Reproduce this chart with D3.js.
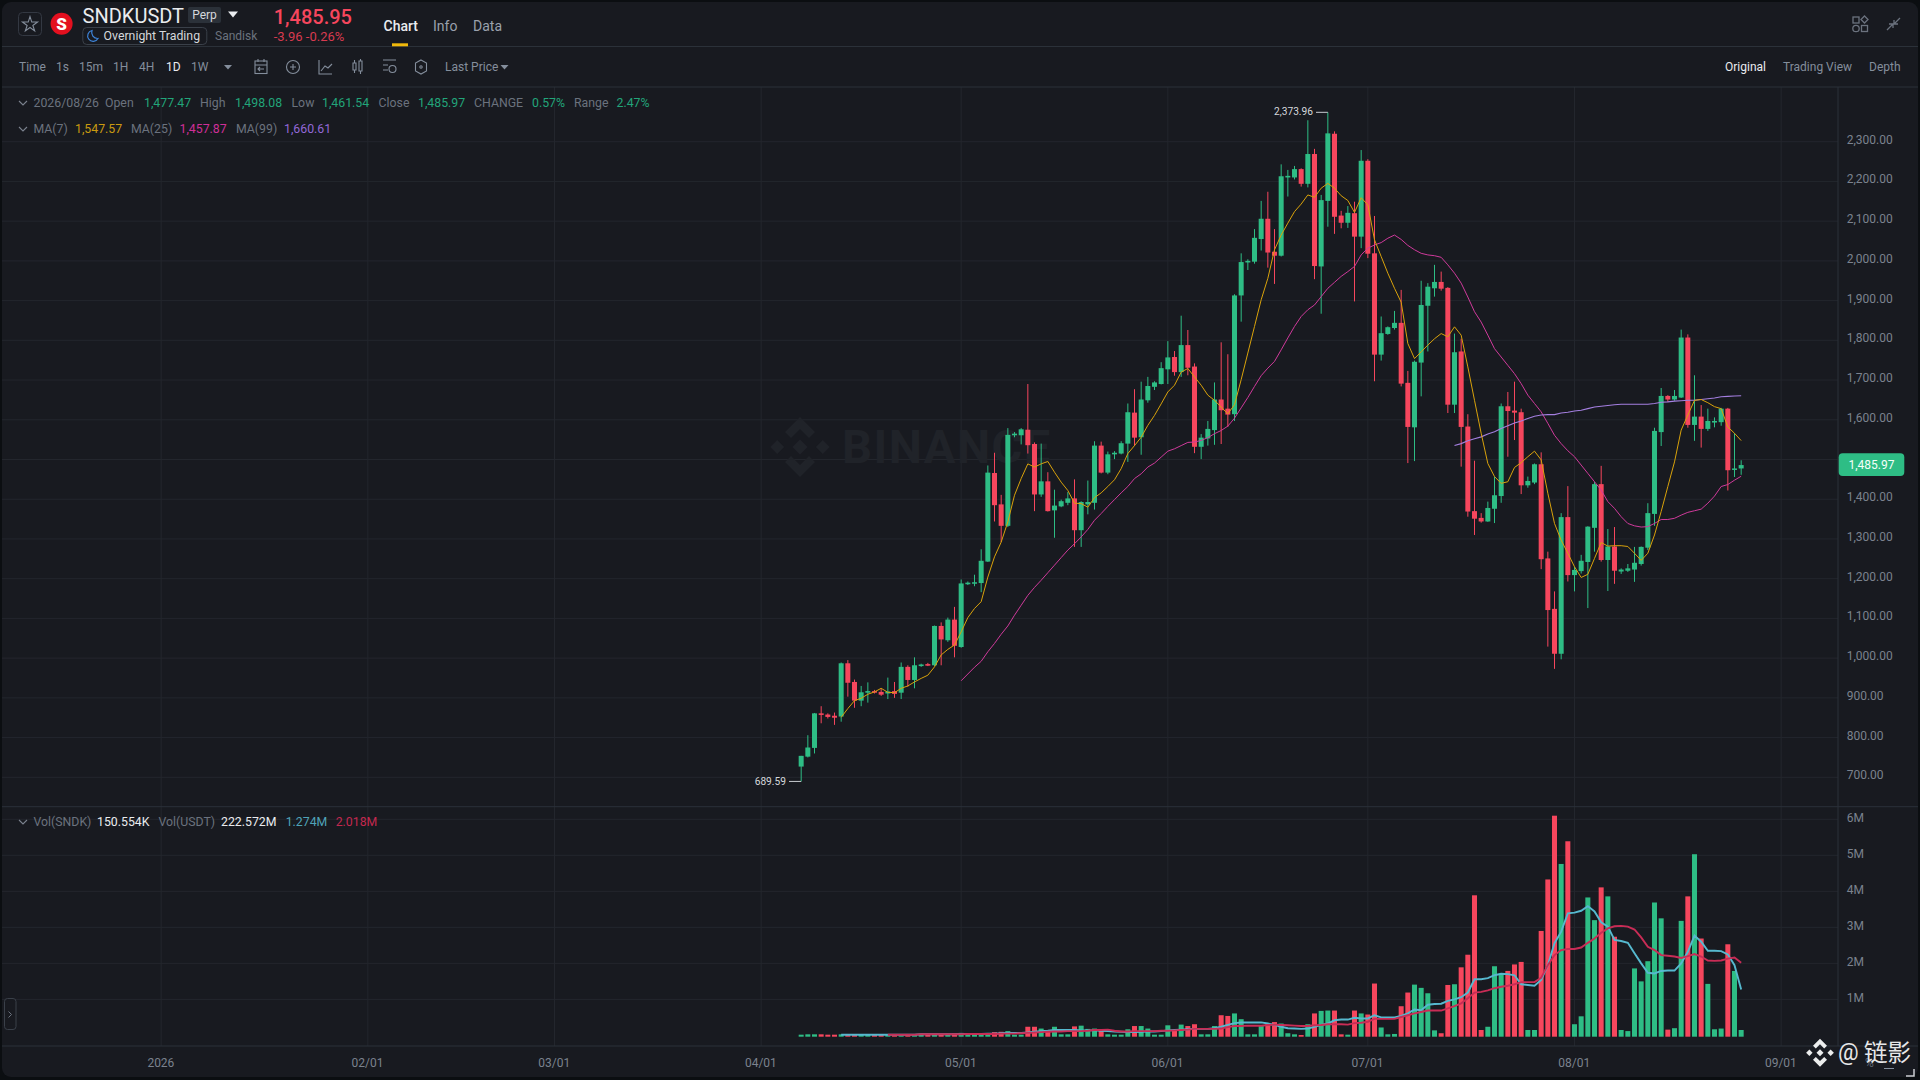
<!DOCTYPE html>
<html><head><meta charset="utf-8">
<style>
html,body{margin:0;padding:0;background:#0b0e11;width:1920px;height:1080px;overflow:hidden}
svg{display:block;font-family:Roboto,"Noto Sans",sans-serif}
</style>
<script src="https://cdn.jsdelivr.net/npm/d3@7/dist/d3.min.js"></script>
</head><body><svg id="c" width="1920" height="1080"></svg>
<script>
const firstDay = "2026-04-07";
const opens = [727,752,774,861,858,855,853,987,940,893,
913,917,915,911,917,913,978,945,980,985,
982,1081,1045,1097,1028,1186,1188,1189,1243,1466,
1387,1333,1561,1561,1575,1539,1412,1445,1372,1382,
1391,1402,1322,1387,1391,1535,1467,1513,1515,1540,
1618,1556,1649,1683,1690,1727,1758,1720,1788,1734,
1532,1553,1574,1651,1628,1614,1913,1996,1998,2055,
2106,2023,2013,2210,2210,2231,2194,2269,1986,2151,
2320,2114,2096,2120,2061,2252,2019,1764,1816,1831,
1844,1693,1581,1744,1887,1931,1947,1932,1638,1772,
1583,1370,1353,1344,1376,1408,1634,1623,1619,1435,
1442,1488,1251,1124,1011,1355,1209,1219,1242,1328,
1438,1247,1281,1218,1220,1223,1237,1278,1363,1569,
1660,1651,1656,1807,1587,1608,1577,1593,1594,1628,
1474,1477.47];
const closes = [754,775,861,857,852,850,987,938,893,914,
917,913,908,916,910,978,945,982,984,981,
1081,1047,1097,1031,1188,1190,1191,1245,1467,1385,
1333,1562,1565,1576,1536,1412,1445,1370,1384,1395,
1402,1322,1393,1393,1535,1467,1513,1517,1541,1619,
1555,1651,1685,1694,1730,1757,1720,1788,1731,1532,
1555,1577,1651,1624,1613,1913,1997,2000,2058,2106,
2021,2013,2213,2214,2231,2194,2269,1987,2153,2321,
2111,2096,2121,2061,2252,2018,1764,1818,1833,1844,
1691,1582,1746,1889,1935,1947,1930,1638,1770,1582,
1369,1351,1344,1378,1410,1634,1622,1618,1435,1446,
1488,1249,1121,1011,1355,1209,1222,1245,1331,1438,
1247,1281,1220,1223,1226,1240,1280,1365,1572,1660,
1651,1660,1807,1587,1608,1577,1597,1597,1628,1473,
1477.47,1485.97];
const highs = [754,806,862,879,861,863,989,995,946,930,
939,920,924,951,940,989,982,1002,986,988,
1082,1090,1102,1129,1198,1193,1210,1274,1485,1517,
1411,1579,1569,1579,1690,1543,1540,1468,1424,1399,
1418,1450,1395,1447,1546,1545,1520,1521,1546,1641,
1677,1696,1708,1697,1745,1798,1773,1862,1826,1742,
1564,1597,1694,1795,1765,1916,2019,2004,2080,2151,
2174,2080,2243,2229,2239,2233,2354,2282,2166,2373.96,
2326,2126,2138,2149,2279,2256,2113,1860,1835,1874,
1927,1723,1749,1950,1944,1990,1973,1934,1817,1804,
1614,1497,1365,1394,1457,1641,1670,1696,1628,1457,
1490,1518,1268,1168,1365,1433,1230,1260,1332,1444,
1484,1325,1330,1226,1237,1280,1281,1390,1580,1680,
1662,1675,1827,1815,1712,1637,1628,1606,1630,1630,
1566,1498.08];
const lows = [689.59,750,760,836,848,832,840,903,875,879,
888,911,905,897,900,897,928,924,978,980,
980,982,1041,1002,1026,1184,1181,1166,1242,1344,
1292,1330,1556,1538,1515,1370,1406,1369,1303,1380,
1385,1280,1280,1362,1374,1465,1463,1501,1513,1494,
1534,1512,1643,1675,1689,1690,1711,1708,1712,1516,
1501,1535,1537,1539,1582,1597,1847,1977,1993,2026,
1983,1942,2011,2162,2205,2187,2185,1954,1867,2086,
2068,2082,2083,1898,2032,2007,1697,1749,1814,1827,
1684,1491,1496,1659,1772,1910,1925,1617,1617,1482,
1356,1310,1341,1343,1340,1391,1507,1549,1413,1429,
1438,1224,1029,973,997,1193,1168,1213,1126,1268,
1243,1169,1187,1212,1217,1192,1233,1272,1333,1534,
1645,1648,1655,1580,1547,1530,1572,1581,1585,1422,
1456,1461.54];
const volumes = [.02,.03,.03,.03,.02,.02,.03,.02,.02,.02,
.02,.02,.02,.02,.02,.02,.02,.02,.03,.02,
.03,.03,.03,.05,.07,.03,.03,.03,.04,.09,
.10,.12,.02,.02,.24,.24,.19,.12,.24,.03,
.03,.25,.27,.18,.19,.15,.03,.02,.02,.17,
.26,.26,.19,.02,.02,.28,.15,.30,.26,.31,
.03,.03,.26,.56,.54,.61,.45,.03,.03,.26,
.31,.37,.33,.06,.03,.01,.31,.61,.68,.69,
.69,.03,.02,.69,.61,.58,1.44,.22,.03,.04,
.81,1.19,1.41,1.32,1.17,.14,.06,1.40,1.42,1.89,
2.24,3.89,.15,.24,1.92,1.70,1.79,1.97,2.04,.15,
.15,2.90,4.33,6.10,4.76,5.39,.31,.53,3.83,3.20,
4.11,3.86,2.74,.15,.12,1.86,1.50,2.06,3.69,3.25,
.16,.20,3.18,3.86,5.03,2.69,1.43,.17,.19,2.53,
1.79,.15];
const ma7Start = 6;
const ma7 = [851,873,893,899,909,915,924,914,913,924,930,940,949,957,
978,1008,1022,1033,1066,1102,1125,1142,1204,1255,1292,1343,1410,1452,1489,1481,
1489,1495,1468,1443,1422,1390,1389,1380,1404,1416,1432,1449,1477,1515,1535,1556,
1586,1611,1640,1670,1687,1720,1729,1708,1687,1662,1649,1632,1615,1638,1701,1768,
1835,1902,1956,2028,2065,2095,2124,2143,2166,2160,2183,2195,2183,2164,2152,2122,
2159,2141,2053,2011,1969,1931,1896,1792,1754,1771,1788,1804,1817,1809,1834,1813,
1733,1649,1566,1490,1457,1440,1444,1480,1492,1507,1521,1499,1415,1339,1297,1264,
1230,1203,1211,1251,1291,1282,1283,1283,1281,1264,1246,1264,1310,1369,1432,1494,
1574,1612,1649,1651,1643,1633,1628,1582,1566,1547.57];
const ma25Start = 24;
const ma25 = [943,960,977,992,1016,1037,1060,1081,1108,1133,1158,1178,1196,1215,1234,1253,
1272,1288,1305,1324,1347,1364,1382,1399,1416,1432,1452,1464,1481,1491,1506,1521,
1527,1535,1543,1544,1548,1555,1565,1573,
1584,1604,1630,1656,1684,1711,1730,1747,1776,1806,1835,1860,1877,1889,1910,1931,
1946,1961,1973,1986,2015,2032,2040,2046,2057,2065,2054,2039,2028,2019,2015,2013,
2009,1990,1969,1944,1909,1872,1846,1813,1779,1758,1737,1716,1691,1662,1641,1620,
1591,1561,1540,1522,1507,1486,1465,1444,1423,1394,1377,1356,1339,1333,1330,1331,
1339,1349,1349,1352,1360,1367,1371,1375,1390,1408,1432,1437,1448,1457.87];
const ma99Start = 98;
const ma99 = [1535,1540,1547,1552,1557,1564,1570,1578,1585,1592,1597,1603,1609,1612,1613,1613,
1617,1619,1622,1624,1628,1632,1634,1636,1638,1639,1639,1639,1639,1639,1641,1644,
1645,1647,1648,1649,1649,1651,1653,1655,1658,1659,1660,1660.61];
const volFastStart = 6;
const volFast = [.02,.02,.02,.02,.02,.02,.02,.02,.02,.02,.02,.02,.03,.03,.03,.03,.03,.03,
.04,.04,.04,.04,.05,.05,.06,.07,.07,.07,.08,.10,.12,.13,.15,.15,.15,.15,
.14,.14,.14,.13,.12,.11,.10,.09,.09,.10,.11,.11,.12,.14,.15,.16,.17,.18,.18,.18,
.20,.24,.29,.34,.36,.36,.36,.36,.33,.29,.24,.20,.19,
.18,.19,.24,.29,.33,.42,.44,.44,.49,.47,.47,.56,.50,.50,.50,.54,.61,.72,.70,.85,.87,.88,.96,
1.0,1.06,1.19,1.56,1.56,1.59,1.67,1.71,1.70,1.67,1.42,1.40,1.38,1.54,1.95,2.56,2.88,3.39,
3.41,3.46,3.59,3.44,3.14,3.02,2.65,2.62,2.57,2.28,2.0,1.74,1.72,1.79,1.80,1.80,2.0,2.32,
2.77,2.60,2.35,2.35,2.34,2.25,1.95,1.274];
const volSlowStart = 13;
const volSlow = [.02,.02,.02,.02,.02,.03,.03,.03,.03,.03,.03,.03,.04,.04,.04,.04,
.04,.05,.05,.05,.06,.07,.08,.09,.10,.11,.11,.12,.12,.12,.13,.15,.15,.16,.13,.11,
.11,.12,.12,.12,.12,.13,.13,.14,.15,.16,.18,.18,.18,.18,.19,.23,.26,.26,.27,.27,.27,
.29,.30,.29,.28,.27,
.26,.26,.28,.29,.31,.31,.31,.30,.34,.35,.38,.46,.46,.46,.46,.51,.56,.61,.65,.69,.69,.69,
.75,.81,.89,1.03,1.19,1.21,1.25,1.31,1.35,1.38,1.42,1.48,1.48,1.48,1.60,1.95,2.23,2.37,
2.40,2.40,2.44,2.57,2.69,2.85,2.97,3.03,3.04,3.02,2.94,2.72,2.46,2.37,2.23,2.21,2.19,2.15,
2.20,2.26,2.19,2.08,2.07,2.08,2.13,2.16,2.018];
const priceTicks = [700,800,900,1000,1100,1200,1300,1400,1500,1600,1700,1800,1900,2000,2100,2200,2300];
const priceLabelTicks = [700,800,900,1000,1100,1200,1300,1400,1600,1700,1800,1900,2000,2100,2200,2300];
const volTicks = [1,2,3,4,5,6];
const dateTicks = ["2026-01-01","2026-02-01","2026-03-01","2026-04-01","2026-05-01","2026-06-01","2026-07-01","2026-08-01","2026-09-01"];
const dateLabels = ["2026","02/01","03/01","04/01","05/01","06/01","07/01","08/01","09/01"];
const intervals = [["Time",19,"#848e9c"],["1s",56,"#848e9c"],["15m",79,"#848e9c"],["1H",113,"#848e9c"],["4H",139,"#848e9c"],["1D",166,"#eaecef"],["1W",191,"#848e9c"]];
const legendTop = [["2026/08/26",33.5,"g"],["Open",105,"g"],["1,477.47",144,"u"],["High",200,"g"],["1,498.08",235,"u"],["Low",291.5,"g"],["1,461.54",322,"u"],["Close",378.6,"g"],["1,485.97",418,"u"],["CHANGE",474,"g"],["0.57%",532,"u"],["Range",574,"g"],["2.47%",616.5,"u"]];
const legendMa = [["MA(7)",33.5,"g"],["1,547.57",75,"y"],["MA(25)",131,"g"],["1,457.87",179.5,"m"],["MA(99)",236,"g"],["1,660.61",284,"p"]];
const legendVol = [["Vol(SNDK)",33.5,"g"],["150.554K",97,"w"],["Vol(USDT)",158.5,"g"],["222.572M",221,"w"],["1.274M",285.7,"c"],["2.018M",335.7,"r"]];

const GREEN="#2ebd85", RED="#f6465d", GRID="#23262d", SEP="#2b3139", MUTED="#848e9c", AXIS="#7b828e";
const palette={g:"#6b727e",u:"#22a57a",y:"#c99a10",m:"#cf2f98",p:"#9368d8",w:"#eaecef",c:"#4fa3b8",r:"#c3284f"};
const parse=d3.utcParse("%Y-%m-%d");
const day0=parse(firstDay);
const dateOf=i=>d3.utcDay.offset(day0,i);
const x=d3.scaleUtc().domain([dateOf(0),dateOf(141)]).range([801.17,1741.17]);
const yP=d3.scaleLinear().domain([700,2300]).range([777.3,141.7]);
const yV=d3.scaleLinear().domain([0,6]).range([1035.4,819.3]);
const svg=d3.select("#c");
function T(g,s,px,py,o={}){return g.append("text").attr("x",px).attr("y",py).attr("dy","0.35em").attr("font-size",o.size||12).attr("font-weight",o.weight||400).attr("fill",o.fill||MUTED).attr("text-anchor",o.anchor||"start").text(s);}

// page + panel
svg.append("rect").attr("width",1920).attr("height",1080).attr("fill","#0b0e11");
svg.append("rect").attr("x",2).attr("y",2).attr("width",1916).attr("height",1075).attr("rx",9).attr("fill","#181a20");

// grid
const grid=svg.append("g").attr("stroke",GRID).attr("stroke-width",1);
grid.selectAll(".p").data(priceTicks).join("line").attr("x1",2).attr("x2",1838).attr("y1",d=>yP(d)).attr("y2",d=>yP(d));
grid.selectAll(".v").data(volTicks).join("line").attr("x1",2).attr("x2",1838).attr("y1",d=>yV(d)).attr("y2",d=>yV(d));
grid.selectAll(".d").data(dateTicks).join("line").attr("x1",d=>x(parse(d))).attr("x2",d=>x(parse(d))).attr("y1",87).attr("y2",1046);

// separators
const sep=svg.append("g").attr("stroke",SEP).attr("stroke-width",1);
[46.5,87,806.7,1046].forEach(y=>sep.append("line").attr("x1",2).attr("x2",1918).attr("y1",y).attr("y2",y));
sep.append("line").attr("x1",1838).attr("x2",1838).attr("y1",87).attr("y2",1046);

// binance mark
function mark(g,cx,cy,s,fill){
  const m=g.append("g").attr("transform",`translate(${cx},${cy}) scale(${s})`).attr("fill",fill);
  m.append("path").attr("d","M0-10L5-5L3-3L0-6L-3-3L-5-5Z");
  m.append("path").attr("d","M0 10L5 5L3 3L0 6L-3 3L-5 5Z");
  m.append("path").attr("d","M-7.6-2.3L-5.3 0L-7.6 2.3L-9.9 0Z");
  m.append("path").attr("d","M7.6-2.3L9.9 0L7.6 2.3L5.3 0Z");
  m.append("path").attr("d","M0-2.5L2.5 0L0 2.5L-2.5 0Z");
}
const wm=svg.append("g");
mark(wm,800,447,3,"#202329");
wm.append("text").attr("x",842).attr("y",463).attr("font-size",47).attr("font-weight",700).attr("letter-spacing",1.5).attr("fill","#202329").text("BINANCE");

// candles
const idx=d3.range(opens.length);
const cw=5;
const cg=svg.append("g");
const col=i=>closes[i]>=opens[i]?GREEN:RED;
cg.selectAll(".w").data(idx).join("rect").attr("x",i=>x(dateOf(i))-0.5).attr("width",1)
  .attr("y",i=>yP(highs[i])).attr("height",i=>Math.max(0.5,yP(lows[i])-yP(highs[i]))).attr("fill",col);
cg.selectAll(".b").data(idx).join("rect").attr("x",i=>x(dateOf(i))-cw/2).attr("width",cw)
  .attr("y",i=>yP(Math.max(opens[i],closes[i]))).attr("height",i=>Math.max(1.5,Math.abs(yP(opens[i])-yP(closes[i])))).attr("fill",col);

// MA lines
const lineOf=(arr,start,y,color,w)=>{
  const ln=d3.line().x((d,k)=>x(dateOf(k+start))).y(d=>y(d));
  svg.append("path").attr("d",ln(arr)).attr("fill","none").attr("stroke",color).attr("stroke-width",w);
};

// volume bars
const vg=svg.append("g");
const vBase=1036.7;
vg.selectAll("rect").data(idx).join("rect").attr("x",i=>x(dateOf(i))-cw/2).attr("width",cw)
  .attr("y",i=>yV(volumes[i])).attr("height",i=>Math.max(1,vBase-yV(volumes[i]))).attr("fill",col);

lineOf(ma25,ma25Start,yP,"#cf3a9b",1);
lineOf(ma99,ma99Start,yP,"#a47fe0",1.1);
lineOf(ma7,ma7Start,yP,"#d9a20b",1);
lineOf(volFast,volFastStart,yV,"#56b9cf",1.9);
lineOf(volSlow,volSlowStart,yV,"#c92c56",1.9);

// extreme labels
const hi=79, lo=0;
const ex=svg.append("g");
T(ex,"2,373.96",1313,yP(highs[hi])-1,{size:10.2,fill:"#d5d8dc",anchor:"end"});
ex.append("line").attr("x1",1316).attr("x2",x(dateOf(hi))).attr("y1",yP(highs[hi])).attr("y2",yP(highs[hi])).attr("stroke","#c8ccd1");
T(ex,"689.59",786,yP(lows[lo]),{size:10.2,fill:"#d5d8dc",anchor:"end"});
ex.append("line").attr("x1",789).attr("x2",x(dateOf(lo))).attr("y1",yP(lows[lo])).attr("y2",yP(lows[lo])).attr("stroke","#c8ccd1");

// axes
const axP=svg.append("g").attr("transform","translate(1846.7,0)")
  .call(d3.axisRight(yP).tickValues(priceLabelTicks).tickSize(0).tickPadding(0).tickFormat(d3.format(",.2f")));
const axV=svg.append("g").attr("transform","translate(1846.7,0)")
  .call(d3.axisRight(yV).tickValues(volTicks).tickSize(0).tickPadding(0).tickFormat(d=>d+"M"));
const axD=svg.append("g").attr("transform","translate(-0.8,1058)")
  .call(d3.axisBottom(x).tickValues(dateTicks.map(parse)).tickSize(0).tickPadding(0).tickFormat((d,i)=>dateLabels[i]));
[axP,axV,axD].forEach(a=>{a.select(".domain").remove();a.selectAll("text").attr("fill",AXIS).attr("font-size",12).attr("font-family","Roboto");});
axP.selectAll("text").attr("transform","translate(0,-2.3)");
axV.selectAll("text").attr("transform","translate(0,-2)");

// last price tag
svg.append("rect").attr("x",1838.7).attr("y",453.3).attr("width",65.6).attr("height",22.7).attr("rx",4).attr("fill",GREEN);
T(svg,"1,485.97",1871.5,464.8,{fill:"#f4fff9",anchor:"middle"});

// header
const h=svg.append("g");
h.append("rect").attr("x",18.5).attr("y",12.5).attr("width",23).attr("height",23).attr("rx",4).attr("fill","none").attr("stroke","#333842");
h.append("path").attr("d",d3.symbol(d3.symbolStar,70)()).attr("transform","translate(30,24.5)").attr("fill","none").attr("stroke","#848e9c").attr("stroke-width",1.1);
h.append("circle").attr("cx",61.6).attr("cy",23.7).attr("r",11).attr("fill","#e3101f");
T(h,"S",61.6,24,{size:17,weight:900,fill:"#fff",anchor:"middle"});
T(h,"SNDKUSDT",82.6,15.5,{size:20,weight:400,fill:"#eaecef"});
h.append("rect").attr("x",188).attr("y",7).attr("width",33).attr("height",16).attr("rx",2).attr("fill","#2b3139");
T(h,"Perp",204.5,15,{fill:"#d5d8dc",anchor:"middle"});
h.append("path").attr("d","M228 11.5h10l-5 6z").attr("fill","#eaecef");
h.append("rect").attr("x",82.8).attr("y",27.5).attr("width",124).attr("height",17).attr("rx",4).attr("fill","none").attr("stroke","#3a4049");
h.append("path").attr("d","M92 30.5a5.5 5.5 0 1 0 6 8a6 6 0 0 1-6-8z").attr("fill","none").attr("stroke","#3d83d8").attr("stroke-width",1.2);
T(h,"Overnight Trading",103.6,36,{size:12.3,fill:"#d5d8dc"});
T(h,"Sandisk",215,36,{size:12,fill:"#6b727e"});
T(h,"1,485.95",273.7,16.5,{size:20,weight:500,fill:RED});
T(h,"-3.96 -0.26%",273.7,36,{size:13,fill:"#d83a50"});
T(h,"Chart",383.5,26,{size:14,weight:500,fill:"#eaecef"});
T(h,"Info",433,26,{size:14,fill:"#9aa1ac"});
T(h,"Data",473,26,{size:14,fill:"#9aa1ac"});
h.append("rect").attr("x",392).attr("y",43.3).attr("width",16).attr("height",3).attr("fill","#f0b90b");

// toolbar
const tb=svg.append("g");
intervals.forEach(d=>T(tb,d[0],d[1],67,{fill:d[2]}));
tb.append("path").attr("d","M224 65h8l-4 4.5z").attr("fill","#848e9c");
const ic=tb.append("g").attr("fill","none").attr("stroke","#848e9c").attr("stroke-width",1.1);
ic.append("rect").attr("x",255).attr("y",61).attr("width",12).attr("height",12.5);
ic.append("path").attr("d","M255 65h12M258 59v3M264 59v3M264 69h-6m2-2l-2 2l2 2");
ic.append("circle").attr("cx",293).attr("cy",67).attr("r",6.5);
ic.append("path").attr("d","M290 67h6M293 64v6");
ic.append("path").attr("d","M319 60v14h13M321 71l4-5l3 2l4-4");
ic.append("path").attr("d","M353 63h3v7h-3zM359 61h3v10h-3zM354.5 60v3M354.5 70v3M360.5 59v2M360.5 71v3");
ic.append("path").attr("d","M383 60h13M383 65h5M383 70h5");
ic.append("circle").attr("cx",392.5).attr("cy",69).attr("r",3.5);
ic.append("path").attr("d","M421 60l5.5 3v8L421 74l-5.5-3v-8z");
ic.append("circle").attr("cx",421).attr("cy",67).attr("r",1.2);
T(tb,"Last Price",445,67,{});
tb.append("path").attr("d","M500.5 65h8l-4 4.5z").attr("fill","#848e9c");
T(tb,"Original",1725,67,{fill:"#eaecef"});
T(tb,"Trading View",1783,67,{});
T(tb,"Depth",1869,67,{});
const tr=svg.append("g").attr("fill","none").attr("stroke","#6b727e").attr("stroke-width",1.3);
tr.append("rect").attr("x",1853).attr("y",17).attr("width",6).attr("height",6);
tr.append("path").attr("d","M1864.5 16l3.5 3.5l-3.5 3.5l-3.5-3.5z");
tr.append("circle").attr("cx",1856).attr("cy",28.5).attr("r",3.2);
tr.append("rect").attr("x",1861.5).attr("y",25.5).attr("width",6).attr("height",6);
tr.append("path").attr("d","M1900 18l-6 6M1894 20v4h4M1887 30l6-6M1893 28v-4h-4");

// legends
const lg=svg.append("g");
const chev=(yy)=>lg.append("path").attr("d",`M19 ${yy-2}l4 4l4-4`).attr("fill","none").attr("stroke","#7b828e").attr("stroke-width",1.1);
chev(103);chev(129);chev(822);
legendTop.forEach(d=>T(lg,d[0],d[1],102.6,{size:12.3,fill:palette[d[2]]}));
legendMa.forEach(d=>T(lg,d[0],d[1],128.8,{size:12.3,fill:palette[d[2]]}));
legendVol.forEach(d=>T(lg,d[0],d[1],822,{size:12.3,fill:palette[d[2]]}));

// side collapse handle
svg.append("rect").attr("x",4.5).attr("y",998.5).attr("width",11.5).attr("height",31).attr("rx",3).attr("fill","#181a20").attr("stroke","#3a4049");
svg.append("path").attr("d","M8.5 1011.5l3 3l-3 3").attr("fill","none").attr("stroke","#6b727e");

// corner bits beneath the overlay
T(svg,"%",1865,1063,{fill:"#5f6672"});
svg.append("path").attr("d","M1906 1076h8v-7").attr("fill","none").attr("stroke","#c9ccd0").attr("stroke-width",1.5);
svg.append("line").attr("x1",1884).attr("x2",1894).attr("y1",1068.5).attr("y2",1068.5).attr("stroke","#848e9c");

// overlay signature
const ov=svg.append("g").attr("fill","#e6e7e8");
mark(ov,1820,1052.7,1.4,"#eceded");
ov.append("text").attr("x",1838).attr("y",1060).attr("font-size",23).attr("font-family","Roboto").text("@");
ov.append("text").attr("x",1864).attr("y",1061).attr("font-size",23.5).attr("font-family","'Noto Sans CJK SC'").text("链影");
</script></body></html>
